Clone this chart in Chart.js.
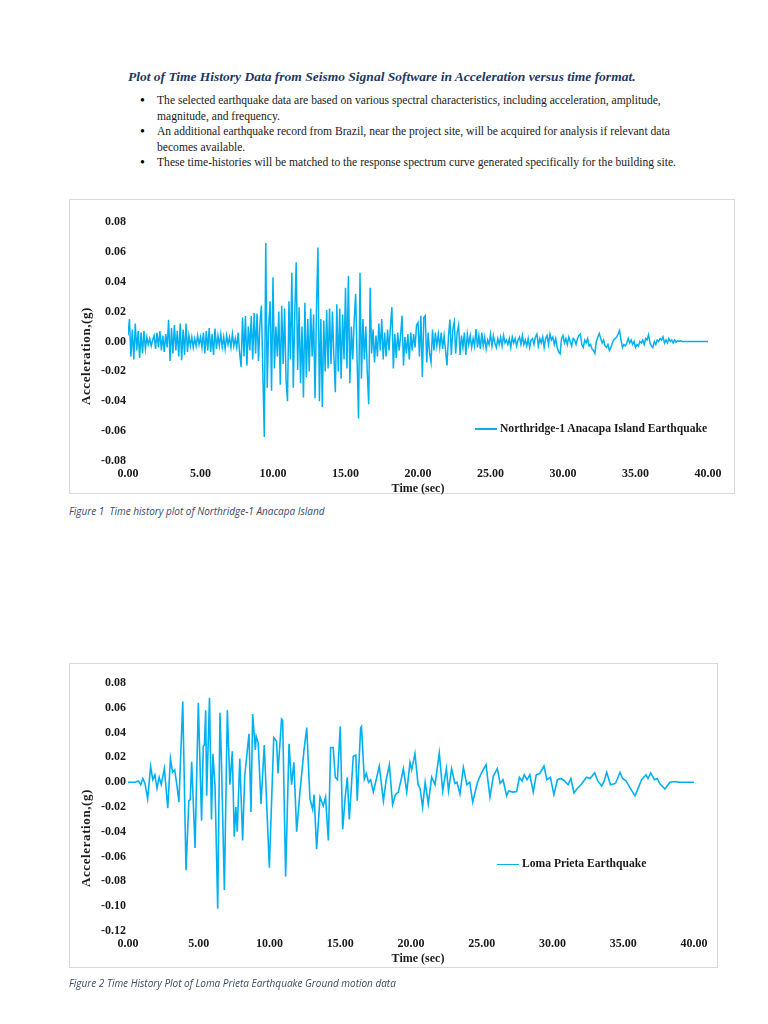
<!DOCTYPE html>
<html>
<head>
<meta charset="utf-8">
<script src="https://cdn.jsdelivr.net/npm/chart.js@4.4.1/dist/chart.umd.min.js"></script>
<style>
  body { margin: 0; background: #fff; width: 768px; height: 1024px; position: relative; overflow: hidden;
         font-family: 'Liberation Serif', 'Times New Roman', serif; color: #1a1a1a; }
  .abs { position: absolute; white-space: nowrap; }
  #heading { left: 128px; top: 69px; font-size: 13.5px; line-height: 16px; font-weight: bold; font-style: italic; color: #1f3864; }
  .bul { left: 140px; font-size: 14px; line-height: 15.5px; color: #000; }
  .txt { left: 157px; font-size: 11.6px; line-height: 15.5px; }
  .box { position: absolute; border: 1px solid #d9d9d9; }
  .ytitle { font-size: 13px; letter-spacing: 0.6px; font-weight: bold; transform: translate(-50%, -50%) rotate(-90deg); }
  .xtitle { font-size: 12px; font-weight: bold; line-height: 14px; transform: translate(-50%, -50%); }
  .legline { position: absolute; background: #00b0f0; }
  .legtxt { font-size: 11.6px; font-weight: bold; line-height: 14px; }
  .caption { left: 69px; font-family: 'Open Sans', 'Noto Sans', sans-serif; font-style: italic; font-size: 10px; line-height: 12px; color: #3b4a66; }
</style>
</head>
<body>

<div id="heading" class="abs">Plot of Time History Data from Seismo Signal Software in Acceleration versus time format.</div>

<div class="abs bul" style="top:93px">&#8226;</div>
<div class="abs txt" style="top:93px">The selected earthquake data are based on various spectral characteristics, including acceleration, amplitude,<br>magnitude, and frequency.</div>
<div class="abs bul" style="top:124px">&#8226;</div>
<div class="abs txt" style="top:124px">An additional earthquake record from Brazil, near the project site, will be acquired for analysis if relevant data<br>becomes available.</div>
<div class="abs bul" style="top:155px">&#8226;</div>
<div class="abs txt" style="top:155px">These time-histories will be matched to the response spectrum curve generated specifically for the building site.</div>

<!-- figure 1 -->
<div class="box" style="left:69px; top:199px; width:664px; height:293px;">
  <canvas id="graphCanvasNorthridge" width="664" height="293"></canvas>
</div>
<div class="abs ytitle" style="left:86px; top:356px;">Acceleration,(g)</div>
<div class="abs xtitle" style="left:418px; top:488px;">Time (sec)</div>
<div class="legline" style="left:475px; top:428px; width:22px; height:2px;"></div>
<div class="abs legtxt" style="left:500px; top:422px;">Northridge-1 Anacapa Island Earthquake</div>
<div class="abs caption" style="top:505px;">Figure 1&nbsp; Time history plot of Northridge-1 Anacapa Island</div>

<!-- figure 2 -->
<div class="box" style="left:69px; top:663px; width:647px; height:303px;">
  <canvas id="graphCanvasLomaPrieta" width="647" height="303"></canvas>
</div>
<div class="abs ytitle" style="left:86px; top:838px;">Acceleration,(g)</div>
<div class="abs xtitle" style="left:418px; top:958px;">Time (sec)</div>
<div class="legline" style="left:497px; top:864px; width:22px; height:1px;"></div>
<div class="abs legtxt" style="left:522px; top:857px;">Loma Prieta Earthquake</div>
<div class="abs caption" style="top:977px;">Figure 2 Time History Plot of Loma Prieta Earthquake Ground motion data</div>

<script>
// Northridge-1 Anacapa Island : acceleration (g), one sample every 0.1 s from 0 to 40 s
var nrDt = 0.1;
var nrAccel = [
  0.004, 0.015, -0.010, 0.008, -0.012, 0.012, -0.006, 0.007, -0.011, 0.006,
  -0.008, 0.007, -0.005, 0.003, -0.002, 0.002, -0.003, 0.001, 0.004, -0.005,
  0.006, -0.004, 0.007, -0.006, 0.004, -0.007, 0.005, -0.004, 0.0145, -0.013,
  0.009, -0.008, 0.011, -0.006, 0.007, -0.010, 0.012, -0.0125, 0.008, -0.009,
  0.012, -0.007, 0.004, -0.003, 0.003, -0.004, 0.002, -0.003, 0.004, -0.002,
  0.003, -0.004, 0.006, -0.008, 0.007, -0.006, 0.009, -0.007, 0.005, -0.009,
  0.0087, -0.005, 0.004, -0.003, 0.005, -0.004, 0.003, -0.005, 0.004, -0.002,
  0.003, -0.004, 0.005, -0.003, 0.002, -0.004, 0.006, -0.008, -0.017, 0.016,
  -0.010, 0.017, -0.016, 0.010, -0.006, 0.017, -0.012, 0.019, -0.008, 0.0187,
  -0.013, 0.012, 0.024, -0.020, -0.064, 0.066, -0.031, 0.010, 0.027, -0.033,
  0.043, -0.018, 0.010, -0.010, 0.020, -0.029, 0.024, -0.015, 0.022, -0.026,
  -0.040, 0.027, -0.012, 0.046, -0.031, 0.018, 0.053, -0.019, 0.023, -0.028,
  0.010, -0.0375, 0.026, -0.024, 0.015, -0.020, 0.022, -0.010, 0.018, -0.038,
  0.022, 0.063, -0.040, 0.015, -0.0438, 0.014, -0.020, 0.021, -0.018, 0.022,
  -0.015, 0.020, -0.010, -0.034, 0.025, -0.020, 0.022, -0.025, 0.018, -0.012,
  0.036, -0.018, 0.044, -0.028, 0.010, -0.012, 0.014, 0.032, -0.012, -0.0516,
  0.046, -0.025, 0.015, -0.012, 0.010, -0.020, -0.042, 0.036, -0.008, 0.008,
  -0.014, 0.004, -0.010, 0.012, -0.006, 0.015, -0.012, 0.006, -0.010, 0.008,
  -0.006, 0.010, 0.023, -0.018, 0.005, -0.011, 0.006, -0.006, 0.004, 0.0173,
  -0.016, 0.003, -0.008, 0.005, -0.012, 0.006, -0.006, 0.005, -0.004, 0.011,
  0.0127, -0.010, 0.0173, -0.0238, 0.016, 0.0173, -0.014, 0.006, -0.008, -0.014,
  0.008, -0.006, 0.006, -0.003, 0.005, -0.004, 0.006, -0.005, 0.004, -0.006,
  -0.016, 0.003, 0.0147, -0.009, 0.008, 0.013, -0.008, 0.006, 0.011, -0.009,
  0.004, -0.004, 0.006, -0.009, 0.005, -0.002, 0.004, -0.004, 0.002, -0.003,
  0.0084, -0.004, 0.004, -0.005, 0.006, -0.003, 0.003, -0.005, 0.001, -0.002,
  0.005, -0.003, 0.004, -0.001, -0.004, 0.002, -0.002, 0.003, -0.003, 0.004,
  -0.001, 0.001, -0.002, 0.002, -0.004, 0.003, -0.001, 0.002, -0.003, 0.001,
  0.003, -0.002, 0.004, -0.002, 0.001, -0.003, 0.002, -0.004, 0.001, 0.002,
  -0.002, 0.003, 0.005, -0.003, 0.002, -0.001, 0.003, -0.004, 0.002, 0.004,
  -0.002, 0.005, 0.001, 0.003, -0.002, 0.002, -0.004, -0.007, -0.0082, 0.002,
  0.004, -0.001, 0.002, -0.002, 0.003, 0.000, -0.003, 0.002, 0.001, -0.002,
  0.002, 0.004, 0.005, -0.002, -0.004, 0.001, -0.001, 0.002, -0.003, -0.002,
  -0.005, -0.006, -0.008, 0.000, 0.003, 0.0053, 0.002, -0.001, 0.001, -0.003,
  -0.004, -0.002, -0.006, -0.004, -0.001, 0.001, 0.002, 0.003, 0.005, 0.0073,
  0.001, -0.004, -0.002, -0.003, -0.001, 0.002, -0.001, 0.001, -0.002, 0.000,
  -0.004, -0.002, -0.003, 0.000, -0.001, 0.001, -0.002, 0.002, 0.001, 0.0046,
  -0.001, -0.003, -0.004, 0.000, -0.002, 0.001, 0.000, 0.002, 0.001, 0.003,
  -0.001, 0.001, -0.001, 0.002, 0.000, 0.001, -0.001, 0.001, -0.0005, 0.0005,
  0.000, 0.0005, 0.000,
  0, 0, 0, 0, 0, 0, 0, 0, 0, 0, 0, 0, 0, 0, 0, 0, 0, 0
];

// Loma Prieta : time (s) and acceleration (g) read at the turning points
var lpTime = [
  0, 0.5, 0.73, 0.9, 1.05, 1.2, 1.39, 1.6, 1.75, 1.9,
  2.05, 2.2, 2.35, 2.57, 2.81, 3.0, 3.15, 3.3, 3.45, 3.6,
  3.87, 4.1, 4.3, 4.4, 4.5, 4.74, 4.97, 5.2, 5.32, 5.4,
  5.49, 5.56, 5.76, 5.9, 6.0, 6.15, 6.34, 6.5, 6.6, 6.81,
  7.02, 7.2, 7.37, 7.51, 7.62, 7.72, 7.9, 8.1, 8.25, 8.55,
  8.69, 8.81, 9.0, 9.06, 9.2, 9.4, 9.63, 9.9, 9.99, 10.3,
  10.5, 10.6, 10.85, 10.93, 11.14, 11.38, 11.56, 11.72, 11.92, 12.15,
  12.44, 12.63, 12.86, 13.05, 13.15, 13.33, 13.57, 13.8, 13.96, 14.16,
  14.32, 14.5, 14.65, 14.8, 15.0, 15.17, 15.35, 15.5, 15.64, 15.92,
  16.1, 16.2, 16.44, 16.5, 16.7, 16.84, 17.0, 17.15, 17.34, 17.5,
  17.76, 18.05, 18.25, 18.47, 18.7, 18.9, 19.1, 19.3, 19.46, 19.7,
  19.93, 20.05, 20.28, 20.5, 20.64, 20.82, 21.0, 21.22, 21.46, 21.7,
  22.0, 22.24, 22.5, 22.65, 22.87, 23.1, 23.25, 23.46, 23.7, 23.95,
  24.15, 24.36, 24.7, 25.0, 25.3, 25.58, 25.82, 26.1, 26.3, 26.5,
  26.76, 26.9, 27.2, 27.47, 27.66, 27.85, 28.0, 28.2, 28.4, 28.64,
  28.85, 29.1, 29.4, 29.6, 29.85, 30.1, 30.35, 30.6, 30.85, 31.1,
  31.3, 31.52, 31.75, 32.06, 32.4, 32.65, 32.98, 33.2, 33.48, 33.65,
  33.83, 34.1, 34.45, 34.77, 34.95, 35.2, 35.5, 35.83, 36.05, 36.3,
  36.6, 36.75, 36.94, 37.2, 37.4, 37.6, 37.95, 38.3, 38.6, 39.0,
  40.0
];
var lpAccel = [
  0, 0, 0.001, -0.002, 0.003, -0.001, -0.0135, 0.0127, 0.002, 0.006,
  -0.005, 0.004, -0.002, 0.011, -0.021, 0.019, 0.008, 0.01, -0.002, -0.016,
  0.065, -0.071, -0.015, -0.014, 0.0165, -0.053, 0.064, -0.031, 0.029, 0.03,
  0.058, -0.011, 0.068, -0.03, 0.023, -0.003, -0.102, 0.056, 0.018, -0.087,
  0.058, -0.002, 0.025, -0.044, -0.02, -0.04, 0.019, -0.047, 0.005, 0.039,
  -0.024, 0.055, 0.026, 0.037, 0.032, -0.0175, 0.03, -0.045, -0.069, 0.036,
  0.033, 0.007, 0.051, 0.05, -0.076, 0.031, -0.002, 0.016, -0.04, -0.008,
  0.026, 0.044, -0.0135, -0.022, -0.01, -0.054, -0.012, -0.019, -0.012, -0.047,
  0.028, 0.028, 0.004, 0.002, 0.045, -0.038, -0.012, 0.004, -0.03, 0.021,
  0.022, -0.015, 0.044, 0.045, 0.0025, 0.007, 0, 0.002, -0.008, 0,
  0.013, -0.015, 0.002, 0.014, -0.018, -0.01, -0.008, 0.002, 0.011, -0.008,
  0.016, 0.01, 0.023, -0.002, -0.005, -0.02, 0, -0.0175, 0.004, -0.002,
  0.0235, -0.007, 0.011, -0.007, 0.011, -0.001, 0, -0.0095, 0.012, -0.002,
  0, -0.016, 0, 0.008, 0.014, -0.012, 0.005, 0.011, -0.001, 0.002,
  -0.011, -0.007, -0.008, -0.0075, 0.004, 0.001, 0.006, 0.002, 0.006, -0.008,
  0.006, 0.007, 0.013, 0.002, 0.004, -0.01, 0.002, 0.003, 0.001, -0.002,
  0.003, -0.0087, -0.005, -0.0015, 0.004, 0.003, 0.0075, 0.001, -0.003, 0.001,
  0.008, -0.002, -0.001, 0.008, 0.003, 0.001, -0.005, -0.011, -0.005, 0.002,
  0.006, 0.003, 0.0075, 0.002, 0.003, -0.0015, -0.0055, 0, 0.0005, 0,
  0
];

var lineColor = '#00b0f0';
var tickFont = { family: "'Liberation Serif', 'Times New Roman', serif", size: 12, weight: 'bold' };

function fmt2(v)
{
  if (Math.abs(v) < 1e-9) v = 0;
  return v.toFixed(2);
}

/**
* Options communes aux deux graphes (axes sans grille, libellés en gras)
*/
function makeOptions(yMin, yMax, padRight, padTop, xHeight)
{
  return {
    responsive: false,
    animation: false,
    layout: { padding: { left: 0, right: padRight, top: padTop, bottom: 0 } },
    plugins: { legend: { display: false }, tooltip: { enabled: false } },
    scales: {
      x: {
        type: 'linear',
        min: 0,
        max: 40,
        grid: { display: false, drawTicks: false },
        border: { display: false },
        ticks: { stepSize: 5, font: tickFont, color: '#1a1a1a', padding: 6, maxRotation: 0, autoSkip: false, callback: fmt2 },
        afterFit: function (scale) { scale.height = xHeight; }
      },
      y: {
        min: yMin,
        max: yMax,
        grid: { display: false, drawTicks: false },
        border: { display: false },
        ticks: { stepSize: 0.02, font: tickFont, color: '#1a1a1a', padding: 2, callback: fmt2 },
        afterFit: function (scale) { scale.width = 58; }
      }
    }
  };
}

function showGraphNorthridge()
{
  var points = [];
  for (var i = 0; i < nrAccel.length; i++) {
    points.push({ x: i * nrDt, y: nrAccel[i] });
  }
  var chartdata = {
    datasets: [{
      label: 'Northridge-1 Anacapa Island Earthquake',
      data: points,
      borderColor: lineColor,
      borderWidth: 1.5,
      pointRadius: 0,
      tension: 0,
      fill: false
    }]
  };
  new Chart(document.getElementById('graphCanvasNorthridge'), {
    type: 'line',
    data: chartdata,
    options: makeOptions(-0.08, 0.08, 26, 22, 32)
  });
}

function showGraphLomaPrieta()
{
  var points = [];
  for (var i = 0; i < lpTime.length; i++) {
    points.push({ x: lpTime[i], y: lpAccel[i] });
  }
  var chartdata = {
    datasets: [{
      label: 'Loma Prieta Earthquake',
      data: points,
      borderColor: lineColor,
      borderWidth: 1.6,
      pointRadius: 0,
      tension: 0,
      fill: false
    }]
  };
  new Chart(document.getElementById('graphCanvasLomaPrieta'), {
    type: 'line',
    data: chartdata,
    options: makeOptions(-0.12, 0.08, 23, 19, 36)
  });
}

showGraphNorthridge();
showGraphLomaPrieta();
</script>
</body>
</html>
